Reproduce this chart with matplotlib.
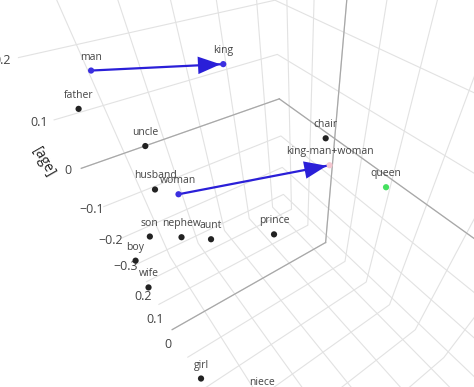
import matplotlib
matplotlib.use('Agg')
import matplotlib.pyplot as plt
from matplotlib.patches import FancyArrowPatch
from matplotlib.transforms import offset_copy
from mpl_toolkits.mplot3d import proj3d
import numpy as np

plt.rcParams['font.family'] = ['Open Sans', 'DejaVu Sans']
plt.rcParams['grid.color'] = '#e2e2e2'
plt.rcParams['grid.linewidth'] = 0.8

# word positions: royalty (x), gender (depth), age (vertical)
words = ['man', 'king', 'father', 'uncle', 'husband', 'woman', 'son', 'nephew', 'aunt',
         'prince', 'boy', 'wife', 'girl', 'niece', 'chair', 'king-man+woman', 'queen']
royalty = [0.0, 0.27, -0.05, 0.035, 0.02, 0.005, -0.04, 0.03, 0.02,
           0.31, -0.095, -0.095, -0.095, 0.0, 0.42, 0.305, 0.30]
gender = [0.20, 0.20, 0.20, 0.15, 0.15, -0.15, 0.10, 0.10, -0.20,
          0.10, 0.10, -0.20, -0.20, -0.32, 0.00, -0.15, -0.30]
age = [0.175, 0.13, 0.125, 0.05, -0.045, 0.125, -0.115, -0.155, 0.07,
       -0.295, -0.16, 0.04, -0.28, -0.28, 0.01, 0.06, 0.10]
colors = ['#3b2fe0', '#3b2fe0', '#222222', '#222222', '#222222', '#3b2fe0', '#222222', '#222222', '#222222',
          '#222222', '#222222', '#222222', '#222222', '#222222', '#222222', '#f4c6d0', '#45e060']
arrows = [('man', 'king'), ('woman', 'king-man+woman')]

x_range = (-0.1, 0.45)
y_range = (-0.7, 0.25)
z_range = (-0.33, 0.29)


class Arrow3D(FancyArrowPatch):
    def __init__(self, xs, ys, zs, *args, **kwargs):
        super().__init__((0, 0), (0, 0), *args, **kwargs)
        self._verts3d = xs, ys, zs

    def do_3d_projection(self, renderer=None):
        xs3d, ys3d, zs3d = self._verts3d
        xs, ys, zs = proj3d.proj_transform(xs3d, ys3d, zs3d, self.axes.M)
        self.set_positions((xs[0], ys[0]), (xs[1], ys[1]))
        return np.min(zs)


fig = plt.figure(figsize=(4.74, 3.87), dpi=100)
S = 660
cx, cy = 290, 258
ax = fig.add_axes([(cx - S / 2) / 474, (387 - cy - S / 2) / 387, S / 474, S / 387],
                  projection='3d', proj_type='persp', focal_length=0.1)
ax.set_xlim(*x_range)
ax.set_ylim(*y_range)
ax.set_zlim(*z_range)
ax.set_box_aspect((0.55, 0.95, 0.75), zoom=1.0)
ax.view_init(elev=50, azim=-126)
ax.patch.set_alpha(0)

ax.set_xticks([0, 0.1, 0.2, 0.3, 0.4])
ax.set_yticks([-0.6, -0.5, -0.4, -0.3, -0.2, -0.1, 0, 0.1, 0.2])
ax.set_zticks([-0.3, -0.2, -0.1, 0, 0.1, 0.2])
ax.set_yticklabels(['', '', '', '', '', '', '0', '0.1', '0.2'])
ax.set_xticklabels([])
ax.set_zticklabels(['\u22120.3', '\u22120.2', '\u22120.1', '0', '0.1', '0.2'])
for a in (ax.xaxis, ax.yaxis, ax.zaxis):
    a.set_pane_color((1, 1, 1, 0))
    a.pane.set_edgecolor('#e2e2e2')
    a.line.set_color((1, 1, 1, 0))
    a._axinfo['tick']['inward_factor'] = 0
    a._axinfo['tick']['outward_factor'] = 0
ax.tick_params(labelsize=9, labelcolor='#444444', pad=1)
ax.set_zlabel('[age]', fontsize=10, color='#222222', labelpad=10)

# zero lines on the back planes
zl = dict(color='#a8a8a8', lw=0.9)
ax.plot(x_range, [y_range[1]] * 2, [0, 0], **zl)
ax.plot([x_range[1]] * 2, y_range, [0, 0], **zl)
ax.plot([x_range[1]] * 2, [0, 0], z_range, **zl)
ax.plot(x_range, [0, 0], [z_range[0]] * 2, **zl)

idx = {w: i for i, w in enumerate(words)}
for a, b in arrows:
    i, j = idx[a], idx[b]
    ax.plot([royalty[i], royalty[j]], [gender[i], gender[j]], [age[i], age[j]], color='#2a1fd8', lw=1.6)
    ar = Arrow3D([royalty[i], royalty[j]], [gender[i], gender[j]], [age[i], age[j]],
                 arrowstyle='-|>,head_length=0.9,head_width=0.35', mutation_scale=18,
                 color='#2a1fd8', lw=0, shrinkA=0, shrinkB=2)
    ax.add_artist(ar)

ax.scatter(royalty, gender, age, c=colors, s=20, depthshade=False, edgecolors='none')
lab_tr = offset_copy(ax.transData, fig=fig, x=0, y=8, units='dots')
for w, x, y, z in zip(words, royalty, gender, age):
    ax.text(x, y, z, w, fontsize=7.5, color='#444444', ha='center', va='bottom', transform=lab_tr)

ax.set_xlim(*x_range)
ax.set_ylim(*y_range)
ax.set_zlim(*z_range)

fig.savefig('out.png', dpi=100)
